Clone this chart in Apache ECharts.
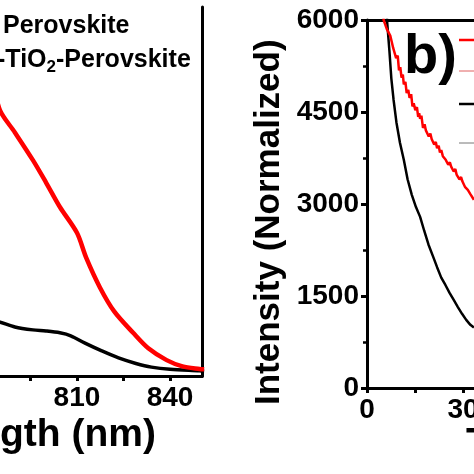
<!DOCTYPE html>
<html>
<head>
<meta charset="utf-8">
<script src="https://cdn.jsdelivr.net/npm/echarts@6/dist/echarts.min.js"></script>
<style>
  html, body { margin: 0; padding: 0; background: #fff; }
  #chart { width: 474px; height: 474px; }
</style>
</head>
<body>
<div id="chart"></div>
<script>
// panel a: PL spectra (wavelength nm, relative intensity)
const plRed = [[783, 80], [785.2, 72], [790, 66], [795.8, 58.5], [800, 52.5], [804.5, 45.8], [810, 38.8], [813, 32], [817.4, 24], [822, 17.5], [828.1, 11.7], [833, 7.5], [838.9, 4.3], [844, 2.6], [849.5, 1.9], [851, 1.8]]
const plBlack = [[783, 15], [785.2, 14.6], [790, 13.3], [795.8, 12.5], [800, 12.2], [804.5, 11.7], [808, 10.9], [812.6, 8.9], [818, 6.8], [823.4, 4.9], [829, 3.4], [834, 2.4], [840, 1.8], [849.5, 1.4], [851, 1.3]]
const plTicks = [795, 810, 825, 840]
const plLabels = [810, 840]
// panel b: PL decay (time ns, counts)
const decayRed = [[4.6, 6900], [5.2, 6000], [5.8, 5980], [6.2, 5850], [6.8, 5880], [7.3, 5740], [7.8, 5720], [8.2, 5540], [8.7, 5560], [9.1, 5380], [9.6, 5420], [10.0, 5180], [10.4, 5230], [10.8, 5060], [11.2, 5110], [11.5, 4950], [12.0, 4990], [12.4, 4810], [12.9, 4860], [13.3, 4730], [13.8, 4790], [14.2, 4590], [14.6, 4640], [15.1, 4530], [15.6, 4580], [16.0, 4420], [16.3, 4480], [16.6, 4390], [17.0, 4440], [17.5, 4240], [18.0, 4300], [18.4, 4200], [18.9, 4230], [19.3, 4100], [19.8, 4150], [20.2, 4060], [20.6, 4090], [21.0, 3970], [21.5, 4010], [21.9, 3910], [22.4, 3950], [22.8, 3840], [23.2, 3880], [23.7, 3780], [24.2, 3810], [24.6, 3720], [25.0, 3750], [25.4, 3640], [25.9, 3680], [26.3, 3610], [26.7, 3630], [27.1, 3530], [27.6, 3570], [28.0, 3480], [28.5, 3510], [28.9, 3400], [29.4, 3440], [29.8, 3370], [30.2, 3400], [30.6, 3280], [31.1, 3310], [31.5, 3230], [31.9, 3250], [32.3, 3160], [32.8, 3190], [33.4, 3070]]
const decayBlack = [[5.8, 7200], [6.25, 6000], [7.0, 5500], [7.6, 5050], [8.3, 4700], [9.2, 4330], [10.3, 4000], [11.5, 3720], [12.7, 3400], [14.0, 3150], [15.3, 2950], [16.6, 2790], [17.9, 2560], [19.2, 2340], [20.6, 2150], [21.9, 1970], [23.2, 1800], [24.5, 1680], [25.8, 1550], [27.1, 1435], [28.4, 1320], [29.7, 1210], [31.0, 1110], [32.3, 1030], [33.4, 985]]
const decayTicks = [0, 1500, 3000, 4500, 6000]
const decayXTicks = [0, 15, 30]
const decayXLabels = [0, 30]

const font = { fontFamily: 'Liberation Sans', fontWeight: 'bold', color: '#000' }
const axLine = { show: true, lineStyle: { color: '#000', width: 3 } }
const chart = echarts.init(document.getElementById('chart'), null, { renderer: 'canvas' })

chart.setOption({
  animation: false,
  grid: [
    { left: 0, top: 7, width: 202, height: 369, outerBoundsMode: 'none' },
    { left: 367, top: 20, width: 120, height: 368, outerBoundsMode: 'none' }
  ],
  xAxis: [
    {
      gridIndex: 0, type: 'value', min: 785.2, max: 850.3,
      axisLine: axLine, splitLine: { show: false },
      axisTick: { length: 5, lineStyle: { width: 3 }, customValues: plTicks },
      axisLabel: Object.assign({ fontSize: 28, margin: 8, customValues: plLabels }, font)
    },
    {
      gridIndex: 0, type: 'value', position: 'top', min: 785.2, max: 850.3,
      axisLine: axLine, axisTick: { show: false }, axisLabel: { show: false }, splitLine: { show: false }
    },
    {
      gridIndex: 1, type: 'value', min: 0, max: 37.5,
      axisLine: axLine, splitLine: { show: false },
      axisTick: { length: 5, lineStyle: { width: 3 }, customValues: decayXTicks },
      axisLabel: Object.assign({ fontSize: 28, margin: 8, customValues: decayXLabels }, font)
    },
    {
      gridIndex: 1, type: 'value', position: 'top', min: 0, max: 37.5,
      axisLine: axLine, axisTick: { show: false }, axisLabel: { show: false }, splitLine: { show: false }
    }
  ],
  yAxis: [
    {
      gridIndex: 0, type: 'value', min: 0, max: 100,
      axisLine: { show: false }, axisTick: { show: false }, axisLabel: { show: false }, splitLine: { show: false }
    },
    {
      gridIndex: 0, type: 'value', position: 'right', min: 0, max: 100,
      axisLine: axLine, axisTick: { show: false }, axisLabel: { show: false }, splitLine: { show: false }
    },
    {
      gridIndex: 1, type: 'value', min: 0, max: 6000, interval: 1500,
      axisLine: axLine, splitLine: { show: false },
      axisTick: { length: 6, lineStyle: { width: 3 } },
      minorTick: { show: true, splitNumber: 2, length: 4, lineStyle: { color: '#000', width: 2.5 } },
      axisLabel: Object.assign({ fontSize: 28, margin: 8, formatter: v => (decayTicks.includes(v) ? v : '') }, font)
    }
  ],
  series: [
    { type: 'line', xAxisIndex: 0, yAxisIndex: 0, data: plBlack, smooth: 0.3, showSymbol: false, lineStyle: { color: '#000', width: 3.5 } },
    { type: 'line', xAxisIndex: 0, yAxisIndex: 0, data: plRed, smooth: 0.3, showSymbol: false, lineStyle: { color: '#f00', width: 4.5 } },
    { type: 'line', xAxisIndex: 2, yAxisIndex: 2, data: decayBlack, showSymbol: false, lineStyle: { color: '#000', width: 2.5 } },
    { type: 'line', xAxisIndex: 2, yAxisIndex: 2, data: decayRed, showSymbol: false, lineStyle: { color: '#f00', width: 2.5 } }
  ],
  graphic: [
    { type: 'text', left: 3, top: 14, style: { text: 'Perovskite', fontSize: 25, fontFamily: 'Liberation Sans', fontWeight: 'bold', fill: '#000' } },
    {
      type: 'text', left: -3, top: 48,
      style: {
        text: '-TiO{s|2}-Perovskite', fontSize: 25, fontFamily: 'Liberation Sans', fontWeight: 'bold', fill: '#000',
        rich: { s: { fontSize: 17, fontFamily: 'Liberation Sans', fontWeight: 'bold', padding: [14, 0, 0, 0] } }
      }
    },
    { type: 'text', left: 0, top: 416, style: { text: 'gth (nm)', fontSize: 39, fontFamily: 'Liberation Sans', fontWeight: 'bold', fill: '#000' } },
    { type: 'text', x: 252, y: 405, rotation: Math.PI / 2, style: { text: 'Intensity (Normalized)', fontSize: 35, fontFamily: 'Liberation Sans', fontWeight: 'bold', fill: '#000' } },
    { type: 'text', left: 404, top: 30, style: { text: 'b)', fontSize: 56, fontFamily: 'Liberation Sans', fontWeight: 'bold', fill: '#000' } },
    { type: 'line', shape: { x1: 459, y1: 40, x2: 480, y2: 40 }, style: { stroke: '#f00', lineWidth: 2.5 } },
    { type: 'line', shape: { x1: 459, y1: 71, x2: 480, y2: 71 }, style: { stroke: '#e06060', lineWidth: 1 } },
    { type: 'line', shape: { x1: 459, y1: 104, x2: 480, y2: 104 }, style: { stroke: '#000', lineWidth: 2.5 } },
    { type: 'line', shape: { x1: 459, y1: 143, x2: 480, y2: 143 }, style: { stroke: '#777', lineWidth: 1 } },
    { type: 'text', left: 466, top: 425, style: { text: 'T', fontSize: 40, fontFamily: 'Liberation Sans', fontWeight: 'bold', fill: '#000' } }
  ]
})
</script>
</body>
</html>
